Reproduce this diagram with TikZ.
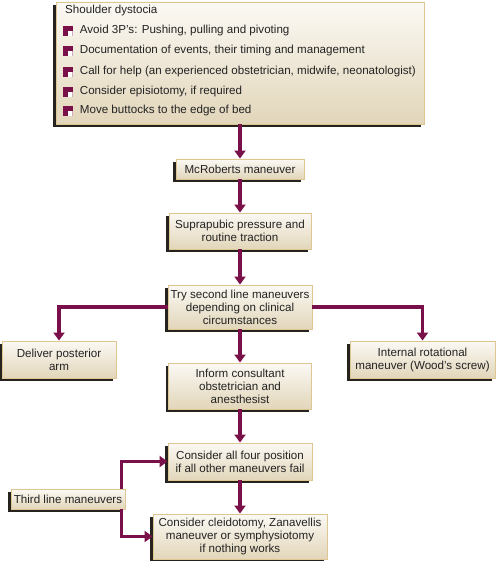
\documentclass[tikz,border=0pt]{standalone}
\usepackage{fontspec}
\setmainfont{Liberation Sans}
\usetikzlibrary{arrows.meta,positioning,shadows}
\definecolor{flowred}{RGB}{122,16,74}
\definecolor{boxedge}{RGB}{222,198,146}
\definecolor{boxtop}{RGB}{251,249,244}
\definecolor{boxbottom}{RGB}{226,214,186}
\definecolor{boxshadow}{RGB}{38,34,30}
\definecolor{boxtext}{RGB}{35,35,35}
\newcommand{\boxfont}{\fontsize{11.6}{13}\selectfont}
\tikzset{
  stepbox/.style = {draw=boxedge, line width=0.9pt, top color=boxtop, bottom color=boxbottom, align=center, font=\boxfont, text=boxtext, inner sep=1pt, drop shadow={shadow xshift=-3pt, shadow yshift=-3pt, fill=boxshadow, opacity=1}},
  itemtext/.style = {font=\boxfont, text=boxtext, inner sep=0pt, anchor=west},
  sqbullet/.style = {fill=flowred, minimum size=10pt, inner sep=0pt, path picture={\fill[white] (path picture bounding box.south east) rectangle ++(-4.5pt,4.5pt);}},
  flowarrow/.style = {draw=flowred, line width=3.2pt, -{Triangle[length=8pt,width=11pt]}},
}

\begin{document}
\begin{tikzpicture}[x=1pt, y=-1pt]
\useasboundingbox (0,0) rectangle (500,561);

% Initial measures
\node[stepbox, minimum width=368pt, minimum height=122pt] (dystocia) at (240,63) {};
\node[itemtext] (title) at (65,11) {Shoulder dystocia};
\node[sqbullet] (b1) at (67.5,31) {};
\node[itemtext, right=7pt of b1] {Avoid 3P's: Pushing, pulling and pivoting};
\node[sqbullet] (b2) at (67.5,51) {};
\node[itemtext, right=7pt of b2] {Documentation of events, their timing and management};
\node[sqbullet] (b3) at (67.5,72) {};
\node[itemtext, right=7pt of b3] {Call for help (an experienced obstetrician, midwife, neonatologist)};
\node[sqbullet] (b4) at (67.5,92) {};
\node[itemtext, right=7pt of b4] {Consider episiotomy, if required};
\node[sqbullet] (b5) at (67.5,111) {};
\node[itemtext, right=7pt of b5] {Move buttocks to the edge of bed};

% First line
\node[stepbox, minimum width=128pt, minimum height=20pt] (mcroberts) at (240,169) {McRoberts maneuver};
\node[stepbox, minimum width=142pt, minimum height=36pt] (suprapubic) at (240,231) {Suprapubic pressure and\\routine traction};

% Second line
\node[stepbox, minimum width=144pt, minimum height=44pt] (second) at (240,307) {Try second line maneuvers\\depending on clinical\\circumstances};
\node[stepbox, minimum width=114pt, minimum height=37pt] (posterior) at (59,359.5) {Deliver posterior\\arm};
\node[stepbox, minimum width=145pt, minimum height=37pt] (rotational) at (422.5,359.5) {Internal rotational\\maneuver (Wood's screw)};
\node[stepbox, minimum width=143pt, minimum height=46pt] (consultant) at (240,386) {Inform consultant\\obstetrician and\\anesthesist};

% Third line
\node[stepbox, minimum width=144pt, minimum height=37pt] (allfour) at (240,461.5) {Consider all four position\\if all other maneuvers fail};
\node[stepbox, minimum width=114pt, minimum height=20pt] (thirdline) at (68,499) {Third line maneuvers};
\node[stepbox, minimum width=174pt, minimum height=45pt] (cleidotomy) at (240,536.5) {Consider cleidotomy, Zanavellis\\maneuver or symphysiotomy\\if nothing works};

% Connectors
\draw[flowarrow] (dystocia.south) -- (mcroberts.north);
\draw[flowarrow] (mcroberts.south) -- (suprapubic.north);
\draw[flowarrow] (suprapubic.south) -- (second.north);
\draw[flowarrow] (second.west) -| (posterior.north);
\draw[flowarrow] (second.east) -| (rotational.north);
\draw[flowarrow] (second.south) -- (consultant.north);
\draw[flowarrow] (consultant.south) -- (allfour.north);
\draw[flowarrow] (allfour.south) -- (cleidotomy.north);
\draw[flowarrow] ([xshift=-4pt]thirdline.north east) |- (allfour.west);
\draw[flowarrow] ([xshift=-4pt]thirdline.south east) |- (cleidotomy.west);

\end{tikzpicture}
\end{document}
